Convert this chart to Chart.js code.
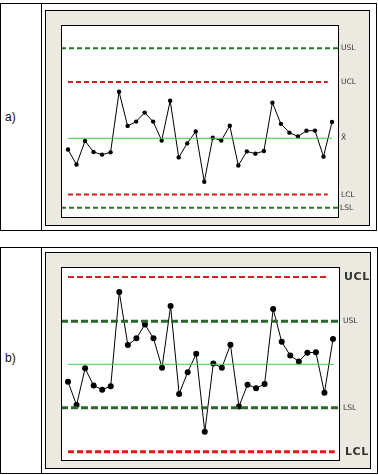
<!DOCTYPE html>
<html><head><meta charset="utf-8">
<script src="https://cdn.jsdelivr.net/npm/chart.js@4/dist/chart.umd.min.js"></script>
<style>
html,body{margin:0;padding:0;background:#fff;width:378px;height:475px;overflow:hidden;}
.frame{position:absolute;border:1px solid #000;box-sizing:border-box;}
.vdiv{position:absolute;width:1px;background:#000;}
.lab{position:absolute;font:12px "Liberation Sans",Arial,sans-serif;color:#111;}
.beige{position:absolute;background:#ECE9E1;border:1px solid #000;box-sizing:border-box;}
canvas{position:absolute;}
</style></head><body>
<div class="frame" style="left:0;top:3px;width:377px;height:228px"></div>
<div class="vdiv" style="left:41px;top:3px;height:228px"></div>
<div class="lab" style="left:5px;top:110px">a)</div>
<div class="beige" style="left:45px;top:10px;width:325px;height:216px"></div>
<canvas id="ca" width="322" height="213" style="left:46px;top:11px;width:322px;height:213px"></canvas>

<div class="frame" style="left:0;top:247px;width:378px;height:227px"></div>
<div class="vdiv" style="left:41px;top:247px;height:227px"></div>
<div class="lab" style="left:5px;top:351px">b)</div>
<div class="beige" style="left:45px;top:252px;width:326px;height:217px"></div>
<canvas id="cb" width="323" height="214" style="left:46px;top:253px;width:323px;height:214px"></canvas>
<script>
// ---- data ----
const sampleIndex = [0,1,2,3,4,5,6,7,8,9,10,11,12,13,14,15,16,17,18,19,20,21,22,23,24,25,26,27,28,29,30,31];
const sampleValues = [9.4,8.6,9.86,9.27,9.13,9.25,12.48,10.66,10.89,11.37,10.89,9.88,12.0,8.98,9.73,10.36,
                      7.68,10.03,9.88,10.67,8.55,9.3,9.18,9.32,11.9,10.77,10.3,10.1,10.4,10.41,9.02,10.87];
const centerLine = 10;
const upperControlLimit = 13;
const lowerControlLimit = 7;
const specLimitsA = [14.8, 6.3];   // USL, LSL for chart a)
const specLimitsB = [11.48, 8.51]; // USL, LSL for chart b)
const limitLabels = ['USL','UCL','X\u0304','LCL','LSL'];

const pts = sampleIndex.map((x,i)=>({x:x,y:sampleValues[i]}));
function hline(v,x0,x1){return [{x:x0,y:v},{x:x1,y:v}];}

const XMIN=-0.82, XMAX=31.82;

const framePlugin = {
  id:'frame',
  beforeDatasetsDraw(chart){
    const {ctx, chartArea:a} = chart;
    ctx.save();
    ctx.fillStyle='#fff';
    ctx.fillRect(a.left,a.top,a.right-a.left,a.bottom-a.top);
    ctx.restore();
  },
  afterDraw(chart,args,opts){
    const {ctx, chartArea:a} = chart;
    const ys = chart.scales.y;
    ctx.save();
    ctx.strokeStyle='#000'; ctx.lineWidth=1;
    ctx.strokeRect(a.left+0.5,a.top+0.5,a.right-a.left-1,a.bottom-a.top-1);
    (opts.labels||[]).forEach(l=>{
      ctx.font=l.font; ctx.fillStyle=l.color; ctx.textBaseline='middle'; ctx.textAlign='left';
      let x=a.right+l.dx, y=ys.getPixelForValue(l.v)+(l.dy||0);
      if(l.spacing){ for(const ch of l.text){ctx.fillText(ch,x,y); x+=ctx.measureText(ch).width+l.spacing;} }
      else ctx.fillText(l.text,x,y);
    });
    ctx.restore();
  }
};

function makeChart(id, cfg){
  return new Chart(document.getElementById(id),{
    type:'line',
    data:{datasets:cfg.datasets},
    options:{
      responsive:false, animation:false, events:[],
      layout:{padding:cfg.pad},
      plugins:{legend:{display:false},tooltip:{enabled:false},frame:{labels:cfg.labels}},
      scales:{
        x:{type:'linear',min:XMIN,max:XMAX,display:false},
        y:{type:'linear',min:cfg.ymin,max:cfg.ymax,display:false}
      }
    },
    plugins:[framePlugin]
  });
}
function refLine(v,x0,x1,color,w,dash){
  return {data:hline(v,x0,x1),borderColor:color,borderWidth:w,borderDash:dash,pointRadius:0,fill:false,tension:0,borderCapStyle:'butt'};
}
const smallFont='7.5px "DejaVu Sans", sans-serif';
const bigFont='bold 11px "DejaVu Sans", sans-serif';

makeChart('ca',{
  pad:{left:15,top:14,right:29,bottom:6},
  ymin:5.75, ymax:16.04,
  datasets:[
    refLine(specLimitsA[0],XMIN,XMAX,'#1f7a1f',2,[5,3]),
    refLine(upperControlLimit,0,30.5,'#dd1c1c',2,[5,3]),
    refLine(centerLine,0,31,'#3ccc3c',1,[]),
    refLine(lowerControlLimit,0,30.5,'#dd1c1c',2,[5,3]),
    refLine(specLimitsA[1],XMIN,XMAX,'#1f7a1f',2,[5,3]),
    {data:pts,borderColor:'#000',borderWidth:1,pointRadius:2.2,pointBackgroundColor:'#000',pointBorderWidth:0,tension:0,fill:false}
  ],
  labels:[
    {text:limitLabels[0],v:specLimitsA[0],dx:2,font:smallFont,color:'#333'},
    {text:limitLabels[1],v:upperControlLimit,dx:2,font:smallFont,color:'#333'},
    {text:limitLabels[2],v:centerLine,dx:2,font:smallFont,color:'#333'},
    {text:limitLabels[3],v:lowerControlLimit,dx:2,font:smallFont,color:'#333'},
    {text:limitLabels[4],v:specLimitsA[1],dx:1,font:smallFont,color:'#333'}
  ]
});

makeChart('cb',{
  pad:{left:15,top:14,right:29,bottom:6},
  ymin:6.68, ymax:13.34,
  datasets:[
    refLine(upperControlLimit,0,30.5,'#d82020',2,[6,3]),
    refLine(specLimitsB[0],XMIN,XMAX,'#2e652e',3,[7,3]),
    refLine(centerLine,0,31.1,'#44cc44',1,[]),
    refLine(specLimitsB[1],XMIN,XMAX,'#2e652e',3,[7,3]),
    refLine(lowerControlLimit,0,31.2,'#ee1414',3,[6,3]),
    {data:pts,borderColor:'#000',borderWidth:1,pointRadius:3,pointBackgroundColor:'#000',pointBorderWidth:0,tension:0,fill:false}
  ],
  labels:[
    {text:limitLabels[1],v:upperControlLimit,dx:4,font:bigFont,color:'#333',spacing:0.6},
    {text:limitLabels[0],v:specLimitsB[0],dx:3,font:smallFont,color:'#333'},
    {text:limitLabels[4],v:specLimitsB[1],dx:3,font:smallFont,color:'#333'},
    {text:limitLabels[3],v:lowerControlLimit,dx:5,font:bigFont,color:'#333',spacing:0.6}
  ]
});
</script>
</body></html>
